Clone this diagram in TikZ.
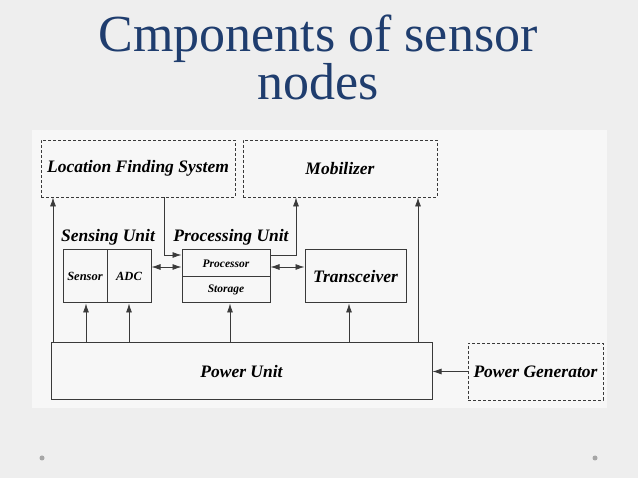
\documentclass[tikz,border=0pt]{standalone}
\usepackage{fontspec}
\setmainfont{Liberation Serif}
\usetikzlibrary{arrows.meta}
\definecolor{titleblue}{HTML}{1F3D6E}
\definecolor{bg}{HTML}{EEEEEE}
\definecolor{panel}{HTML}{F7F7F7}
\definecolor{ln}{HTML}{3A3A3A}
\tikzset{
 box/.style={draw=ln,line width=1pt,inner sep=0pt},
 dbox/.style={draw=ln,line width=0.9pt,dash pattern=on 3pt off 2pt,inner sep=0pt},
 big/.style={font=\fontsize{17.5}{19}\selectfont\bfseries\itshape},
 conn/.style={draw=ln,line width=0.8pt,-{Latex[length=9pt,width=6pt]}},
 dconn/.style={draw=ln,line width=0.8pt,{Latex[length=9pt,width=6pt]}-{Latex[length=9pt,width=6pt]}}
}
\begin{document}
\begin{tikzpicture}[x=1pt,y=-1pt]
\useasboundingbox (0,0) rectangle (638,478);
\fill[bg] (0,0) rectangle (638,478);
\fill[panel] (32,130) rectangle (607,408);
\node[titleblue,font=\fontsize{52}{48}\selectfont,align=center] (title) at (318,57) {Cmponents of sensor\\nodes};
% boxes
\node[dbox,minimum width=194pt,minimum height=57pt,big] (lfs) at (138,168.5) {Location Finding System};
\node[dbox,minimum width=194pt,minimum height=57pt,big] (mob) at (340,168.5) {Mobilizer};
\node[box,minimum width=44pt,minimum height=53pt,font=\fontsize{12.5}{14}\selectfont\bfseries\itshape] (sen) at (85,276.5) {Sensor};
\node[box,minimum width=44pt,minimum height=53pt,font=\fontsize{12.5}{14}\selectfont\bfseries\itshape] (adc) at (129,276.5) {ADC};
\node[box,minimum width=88pt,minimum height=27pt,font=\fontsize{11.5}{13}\selectfont\bfseries\itshape] (proc) at (226,263.5) {Processor};
\node[box,minimum width=88pt,minimum height=26pt,font=\fontsize{11.5}{13}\selectfont\bfseries\itshape] (stor) at (226,290) {Storage};
\node[box,minimum width=101pt,minimum height=53pt,font=\fontsize{17.5}{19}\selectfont\bfseries\itshape] (tr) at (355.5,276.5) {Transceiver};
\node[big] (su) at (108,237) {Sensing Unit};
\node[big] (pu) at (231,237) {Processing Unit};
\node[box,minimum width=381pt,minimum height=57pt,big] (pow) at (241.5,371.5) {Power Unit};
\node[dbox,minimum width=135pt,minimum height=57pt,big] (gen) at (535.5,371.5) {Power Generator};
% connectors
\draw[conn] (pow.north west -| 53,0) -- (lfs.south west -| 53,0);
\draw[conn] (pow.north -| 418,0) -- (mob.south -| 418,0);
\draw[conn] (pow.north -| 86,0) -- (sen.south -| 86,0);
\draw[conn] (pow.north -| 129,0) -- (adc.south);
\draw[conn] (pow.north -| 230,0) -- (stor.south -| 230,0);
\draw[conn] (pow.north -| 349,0) -- (tr.south -| 349,0);
\draw[conn] (lfs.south -| 164,0) |- (proc.west |- 0,255);
\draw[conn] (proc.east |- 0,255) -| (mob.south -| 296,0);
\draw[dconn] (adc.east |- 0,267) -- (proc.west |- 0,267);
\draw[dconn] (proc.east |- 0,267) -- (tr.west |- 0,267);
\draw[conn] (gen.west) -- (pow.east);
\fill[gray!70] (42,458) circle (2.5pt) (595,458) circle (2.5pt);
\end{tikzpicture}
\end{document}
